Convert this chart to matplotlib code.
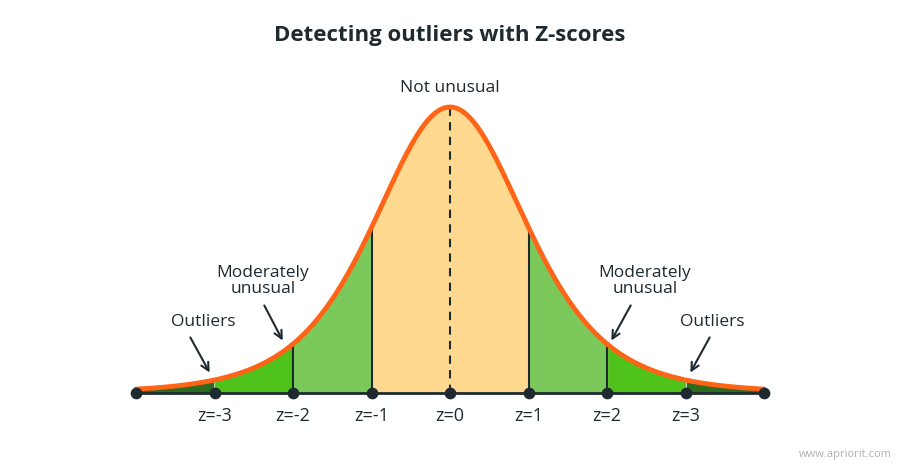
import numpy as np
import matplotlib
matplotlib.use("Agg")
import matplotlib.pyplot as plt

plt.rcParams['font.family'] = ['Open Sans', 'DejaVu Sans']

z_ticks = [-3, -2, -1, 0, 1, 2, 3]
tick_labels = ["z=-3", "z=-2", "z=-1", "z=0", "z=1", "z=2", "z=3"]
region_labels = ["Outliers", "Moderately\nunusual", "Not unusual", "Moderately\nunusual", "Outliers"]
curve_df = 5  # shape of the bell curve (Student-t like, fat tails)

PX = 78.5
H = 286
def pdf(z):
    return (1 + z**2/curve_df) ** (-(curve_df+1)/2) * H
def px(x): return (x-450)/PX
def py(y): return 393-y

fig = plt.figure(figsize=(9, 4.74), dpi=100)
ax = fig.add_axes([0, 0, 1, 1])
ax.set_xlim(-450/PX, 450/PX)
ax.set_ylim(-81, 393)
ax.axis('off')

x = np.linspace(-4, 4, 800)
y = pdf(x)
def fill(a, b, c):
    m = (x >= a) & (x <= b)
    ax.fill_between(x[m], 0, y[m], color=c, lw=0, zorder=1)
fill(-4, -3, '#2E6B1F'); fill(3, 4, '#2E6B1F')
fill(-3, -2, '#4FC31C'); fill(2, 3, '#4FC31C')
fill(-2, -1, '#7BC95B'); fill(1, 2, '#7BC95B')
fill(-1, 1, '#FFD990')

for zt in [-2, -1, 1, 2]:
    ax.plot([zt, zt], [0, pdf(zt)], color='#1f2a30', lw=1.5, zorder=2)
ax.plot([0, 0], [0, pdf(0)], color='#1f2a30', lw=1.5, ls=(0, (4, 3)), zorder=2)
ax.plot([-4, 4], [0, 0], color='#1f2a30', lw=2, zorder=2)
ax.plot(x, y, color='#FF6417', lw=3.5, zorder=3, solid_capstyle='round')
ax.scatter([-4, 4] + z_ticks, [0]*9, s=55, color='#1f2a30', zorder=4)

for zt, lab in zip(z_ticks, tick_labels):
    ax.text(zt, -23, lab, ha='center', va='center', fontsize=13, color='#1f2a30')

ax.text(0, py(35), "Detecting outliers with Z-scores", ha='center', va='center',
        fontsize=16, fontweight='bold', color='#1f2a30')
ax.text(0, py(88), region_labels[2], ha='center', va='center', fontsize=12.5, color='#1f2a30')
ax.text(px(263), py(281), region_labels[1], ha='center', va='center', fontsize=12.5, color='#1f2a30', linespacing=0.95)
ax.text(px(645), py(281), region_labels[3], ha='center', va='center', fontsize=12.5, color='#1f2a30', linespacing=0.95)
ax.text(px(203), py(322), region_labels[0], ha='center', va='center', fontsize=12.5, color='#1f2a30')
ax.text(px(712), py(322), region_labels[4], ha='center', va='center', fontsize=12.5, color='#1f2a30')

for (x0, y0, x1, y1) in [(263, 303, 284, 343), (189, 335, 211, 375),
                         (632, 303, 610, 343), (711, 335, 689, 375)]:
    ax.annotate("", xy=(px(x1), py(y1)), xytext=(px(x0), py(y0)),
                arrowprops=dict(arrowstyle='->', color='#1f2a30', lw=1.5, mutation_scale=14))

ax.text(px(845), py(455), "www.apriorit.com", ha='center', va='center', fontsize=8, color='#b0b0b0')

fig.savefig("out.png", dpi=100, facecolor='white')
